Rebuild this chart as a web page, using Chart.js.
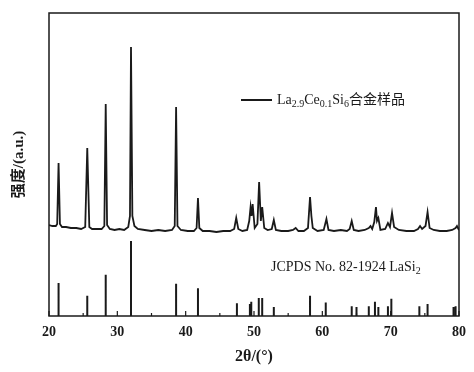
<!DOCTYPE html>
<html lang="zh">
  <head>
    <meta charset="UTF-8" />
    <title>La2.9Ce0.1Si6 XRD</title>
    <script src="https://cdn.jsdelivr.net/npm/chart.js"></script>
    <style>
      body { margin: 0; background: #fff; }
      #wrap { width: 474px; height: 372px; }
    </style>
  </head>
  <body>
    <div id="wrap"><canvas id="xrdChart" width="474" height="372"></canvas></div>

    <script>
      // measured pattern of the alloy sample (2θ in degrees, intensity a.u. incl. offset)
      const sampleAngle = [
        20.0, 20.5, 21.0, 21.2, 21.4, 21.6, 21.9, 22.5, 23.2, 24.0, 24.7, 25.3, 25.6, 25.9, 26.3,
        27.0, 27.7, 28.1, 28.3, 28.5, 28.9, 29.6, 30.3, 31.0, 31.6, 31.85, 32.0, 32.2, 32.5, 33.0,
        34.0, 35.0, 36.0, 37.0, 38.0, 38.4, 38.6, 38.8, 39.3, 40.3, 41.2, 41.6, 41.8, 42.0, 42.5,
        43.5, 44.5, 45.5, 46.5, 47.1, 47.4, 47.7, 48.3, 49.0, 49.3, 49.5, 49.65, 49.8, 50.1, 50.5,
        50.75, 51.0, 51.2, 51.5, 52.0, 52.6, 52.9, 53.2, 54.0, 55.0, 55.7, 56.1, 56.5, 57.3, 57.9,
        58.2, 58.4, 58.6, 59.3, 60.2, 60.6, 60.9, 61.7, 62.7, 63.6, 64.0, 64.3, 64.6, 65.3, 66.2,
        66.8, 67.05, 67.3, 67.6, 67.85, 68.0, 68.2, 68.5, 69.2, 69.6, 69.9, 70.2, 70.5, 71.2, 72.3,
        73.4, 74.0, 74.3, 74.6, 75.1, 75.4, 75.7, 76.3, 77.2, 78.2, 79.0, 79.5, 79.7, 80.0
      ];
      const sampleIntensity = [
        91, 90, 90, 92, 153, 92, 89, 89, 88, 88, 87, 89, 168, 89, 87,
        87, 87, 90, 212, 91, 87, 86, 87, 86, 89, 100, 269, 100, 90, 87,
        86, 85, 86, 85, 86, 90, 209, 90, 86, 85, 85, 88, 118, 88, 85,
        85, 84, 85, 85, 87, 98, 87, 85, 86, 95, 109, 100, 112, 88, 92,
        134, 95, 109, 88, 86, 87, 96, 86, 85, 85, 86, 88, 85, 85, 88,
        119, 100, 88, 85, 86, 97, 86, 85, 86, 85, 87, 95, 86, 85, 86,
        88, 90, 87, 94, 109, 95, 98, 86, 87, 93, 89, 103, 89, 86, 85,
        85, 87, 90, 87, 90, 104, 88, 86, 85, 85, 86, 88, 90, 86
      ];

      // JCPDS No. 82-1924 LaSi2 reference lines (relative intensity, %)
      const refAngle = [
        21.4, 25.6, 28.3, 32.0, 38.6, 41.8, 47.5, 49.4, 49.6, 50.7, 51.2, 52.9, 58.2,
        60.5, 64.3, 65.0, 66.8, 67.7, 68.2, 69.6, 70.1, 74.2, 75.4, 79.2, 79.5
      ];
      const refIntensity = [
        44, 27, 55, 100, 43, 37, 17, 16, 19, 24, 24, 12, 27,
        18, 13, 12, 13, 19, 12, 13, 23, 13, 16, 12, 13
      ];
      const refScale = 0.75;

      const xTicks = [20, 30, 40, 50, 60, 70, 80];

      const serif = '"Liberation Serif", "Times New Roman", "Noto Sans CJK SC", serif';
      const ink = "#1a1a1a";

      const sampleData = sampleAngle.map((a, i) => ({ x: a, y: sampleIntensity[i] }));
      const refData = refAngle.flatMap((a, i) => [
        { x: a, y: 0 },
        { x: a, y: refIntensity[i] * refScale },
        { x: a, y: null },
      ]);

      // draw text pieces with subscripts
      function drawRich(ctx, parts, x, y, size) {
        ctx.textBaseline = "middle";
        ctx.textAlign = "left";
        parts.forEach((p) => {
          if (p.sub) {
            ctx.font = Math.round(size * 0.7) + "px " + serif;
            ctx.fillText(p.t, x, y + size * 0.3);
          } else {
            ctx.font = size + "px " + serif;
            ctx.fillText(p.t, x, y);
          }
          x += ctx.measureText(p.t).width;
        });
      }

      const framePlugin = {
        id: "frame",
        afterDraw(chart) {
          const { ctx, chartArea: a, scales } = chart;
          const xs = scales.x;
          ctx.save();
          ctx.strokeStyle = ink;
          ctx.lineWidth = 1.5;
          ctx.strokeRect(a.left, a.top, a.right - a.left, a.bottom - a.top);

          // inward tick marks
          ctx.lineWidth = 1.2;
          xs.ticks.forEach((t) => {
            const px = xs.getPixelForValue(t.value);
            const len = xTicks.includes(t.value) ? 5 : 3;
            ctx.beginPath();
            ctx.moveTo(px, a.bottom);
            ctx.lineTo(px, a.bottom - len);
            ctx.stroke();
          });

          // legend
          ctx.lineWidth = 2;
          ctx.beginPath();
          ctx.moveTo(241, 100);
          ctx.lineTo(272, 100);
          ctx.stroke();
          ctx.fillStyle = ink;
          drawRich(ctx, [
            { t: "La" }, { t: "2.9", sub: true }, { t: "Ce" }, { t: "0.1", sub: true },
            { t: "Si" }, { t: "6", sub: true }, { t: "合金样品" }
          ], 277, 100, 14);

          // reference label
          drawRich(ctx, [{ t: "JCPDS No. 82-1924 LaSi" }, { t: "2", sub: true }], 271, 267, 14);
          ctx.restore();
        },
      };

      new Chart(document.getElementById("xrdChart"), {
        type: "line",
        data: {
          datasets: [
            {
              label: "sample",
              data: sampleData,
              borderColor: ink,
              borderWidth: 1.8,
              pointRadius: 0,
              tension: 0,
            },
            {
              label: "JCPDS",
              data: refData,
              borderColor: ink,
              borderWidth: 2,
              pointRadius: 0,
              spanGaps: false,
            },
          ],
        },
        options: {
          responsive: false,
          animation: false,
          layout: { padding: { top: 13, right: 15, left: 0, bottom: 0 } },
          plugins: { legend: { display: false }, tooltip: { enabled: false } },
          scales: {
            x: {
              type: "linear",
              min: 20,
              max: 80,
              border: { display: false },
              grid: { display: false, drawTicks: false },
              ticks: {
                stepSize: 5,
                padding: 8,
                color: ink,
                font: { family: serif, size: 14, weight: "bold" },
                callback: (v) => (xTicks.includes(v) ? v : ""),
              },
              title: {
                display: true,
                text: "2θ/(°)",
                color: ink,
                padding: { top: -2, bottom: 6 },
                font: { family: serif, size: 16, weight: "bold" },
              },
            },
            y: {
              min: 0,
              max: 303,
              border: { display: false },
              grid: { display: false, drawTicks: false },
              ticks: { display: false },
              title: {
                display: true,
                text: "强度/(a.u.)",
                color: ink,
                padding: { top: 10, bottom: 21 },
                font: { family: serif, size: 15, weight: "bold" },
              },
            },
          },
        },
        plugins: [framePlugin],
      });
    </script>
  </body>
</html>
